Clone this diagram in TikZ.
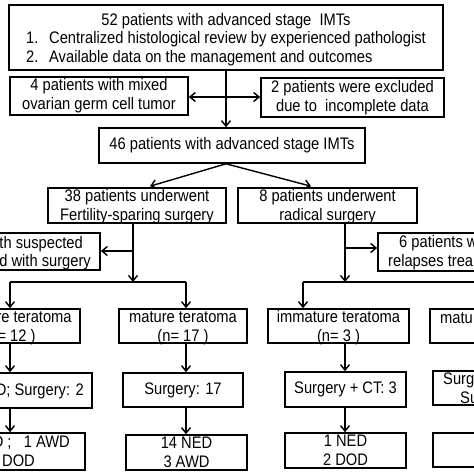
\documentclass[tikz,border=0pt]{standalone}
\usepackage{fontspec}
\setmainfont{Liberation Sans}[FakeStretch=0.88]
\usetikzlibrary{arrows.meta,calc}
\newcommand\figfont{\fontsize{16.7}{18.7}\selectfont}
\begin{document}
\begin{tikzpicture}[x=1pt,y=-1pt,
  box/.style={draw, line width=1.6pt, inner sep=0pt},
  lbl/.style={inner sep=0pt, align=center, font=\figfont},
  txt/.style={inner sep=0pt, font=\figfont},
  arr/.style={line width=1.4pt, -{Straight Barb[length=5.5pt,width=9pt]}},
  ln/.style={line width=1.4pt}]
\useasboundingbox (0,0) rectangle (474,474);
\fill[white] (0,0) rectangle (474,474);
\clip (0,0) rectangle (474,474);

% top
\node[box, minimum width=434pt, minimum height=65pt, label={[lbl,yshift=-2.5pt]center:{\begin{tabular}{@{}l@{}}\multicolumn{1}{@{}c@{}}{52 patients with advanced stage\ \ IMTs}\\
 \makebox[23pt][l]{1.}Centralized histological review by experienced pathologist\\
 \makebox[23pt][l]{2.}Available data on the management and outcomes\end{tabular}}}] (top) at (226,37.5) {};
\node[box, minimum width=178pt, minimum height=38pt, label={[lbl]center:{4 patients with mixed\\ovarian germ cell tumor}}] (box4) at (99,96) {};
\node[box, minimum width=183pt, minimum height=39pt, label={[lbl]center:{2 patients were excluded\\due to\ \ incomplete data}}] (box2) at (352.5,97.5) {};
\node[box, minimum width=266pt, minimum height=35pt, label={[lbl]center:{46 patients with advanced stage IMTs}}] (box46) at (232,145.5) {};
\node[box, minimum width=178pt, minimum height=35pt, label={[lbl,yshift=-1pt]center:{38 patients underwent\\Fertility-sparing surgery}}] (box38) at (137,205.5) {};
\node[box, minimum width=179pt, minimum height=35pt, label={[lbl,yshift=-1pt]center:{8 patients underwent\\radical surgery}}] (box8) at (327.5,205.5) {};

% side boxes
\node[box, minimum width=160pt, minimum height=37pt] (susp) at (20,251.5) {};
\node[txt, anchor=east] (susp1) at (83,244) {th suspected};
\node[txt, anchor=east] (susp2) at (91,262) {d with surgery};
\node[box, minimum width=162pt, minimum height=38pt] (relap) at (459,252) {};
\node[txt, anchor=west] (relap1) at (399,243) {6 patients w};
\node[txt, anchor=west] (relap2) at (388,262) {relapses trea};

% row 3
\node[box, minimum width=140pt, minimum height=34pt, label={[lbl,yshift=-2pt]center:{immature teratoma\\(n= 12 )}}] (r3a) at (10,326) {};
\node[box, minimum width=128pt, minimum height=34pt, label={[lbl,yshift=-2pt]center:{mature teratoma\\(n= 17 )}}] (r3b) at (183,326) {};
\node[box, minimum width=141pt, minimum height=34pt, label={[lbl,yshift=-2pt]center:{immature teratoma\\(n= 3 )}}] (r3c) at (338.5,326) {};
\node[box, minimum width=140pt, minimum height=34pt] (r3d) at (500,326) {};
\node[txt, anchor=west] (r3dt) at (440,318) {matu};

% row 4
\node[box, minimum width=162pt, minimum height=35pt] (r4a) at (11,390.5) {};
\node[txt, anchor=east] (r4at) at (84,391) {D; Surgery: 2};
\node[box, minimum width=120pt, minimum height=34pt, label={[lbl]center:{Surgery: 17}}] (r4b) at (183,390) {};
\node[box, minimum width=121pt, minimum height=35pt, label={[lbl]center:{Surgery + CT: 3}}] (r4c) at (345.5,389.5) {};
\node[box, minimum width=137pt, minimum height=34pt] (r4d) at (501.5,388) {};
\node[txt, anchor=west] (r4d1) at (443,380) {Surg};
\node[txt, anchor=west] (r4d2) at (460,398) {Su};

% row 5
\node[box, minimum width=155pt, minimum height=37pt] (r5a) at (7.5,451.5) {};
\node[txt, anchor=east] (r5a1) at (70,443) {D ;\ \ \ 1 AWD};
\node[txt, anchor=west] (r5a2) at (2,461) {DOD};
\node[box, minimum width=121pt, minimum height=35pt, label={[lbl]center:{14 NED\\3 AWD}}] (r5b) at (186.5,452.5) {};
\node[box, minimum width=121pt, minimum height=35pt, label={[lbl]center:{1 NED\\2 DOD}}] (r5c) at (345.5,450.5) {};
\node[box, minimum width=137pt, minimum height=34pt] (r5d) at (501.5,450) {};

% connectors top
\coordinate (c226) at (226,0);
\draw[arr] (top.south) -- (top.south |- box46.north);
\coordinate (j1) at (226,97);
\draw[arr] (j1) -- (j1 -| box4.east);
\draw[arr] (j1) -- (j1 -| box2.west);
\coordinate (b46) at (box46.south -| c226);
\coordinate (t38) at ($(box38.north)+(13,-1)$);
\coordinate (t8) at ($(box8.north)+(-16.5,-1)$);
\draw[arr] (b46) -- (t38);
\draw[arr] (b46) -- (t8);

% left branch
\coordinate (x133) at (133,0);
\coordinate (h1) at (133,282);
\draw[arr] (box38.south -| x133) -- (h1);
\draw[arr] (133,251) -- (susp.east |- 0,251);
\coordinate (xa) at (10,282);
\coordinate (xb) at (186,282);
\draw[ln] (xa) -- (xb);
\draw[arr] (xa) -- (xa |- r3a.north);
\draw[arr] (xb) -- (xb |- r3b.north);

% right branch
\coordinate (x345) at (345,0);
\coordinate (h2) at (345,282);
\draw[arr] (box8.south -| x345) -- (h2);
\draw[arr] (345,248) -- (relap.west |- 0,248);
\coordinate (xc) at (303,282);
\coordinate (xd) at (500,282);
\draw[ln] (xc) -- (xd);
\draw[arr] (xc) -- (xc |- r3c.north);
\draw[arr] (xd) -- (xd |- r3d.north);

% row 3 -> 4 -> 5
\draw[arr] (r3a.south -| xa) -- (r4a.north -| xa);
\draw[arr] (r3b.south -| xb) -- (r4b.north -| xb);
\draw[arr] (r3c.south -| x345) -- (r4c.north -| x345);
\draw[arr] (r4a.south -| xa) -- (r5a.north -| xa);
\draw[arr] (r4b.south -| xb) -- (r5b.north -| xb);
\draw[arr] (r4c.south -| x345) -- (r5c.north -| x345);
\end{tikzpicture}
\end{document}
